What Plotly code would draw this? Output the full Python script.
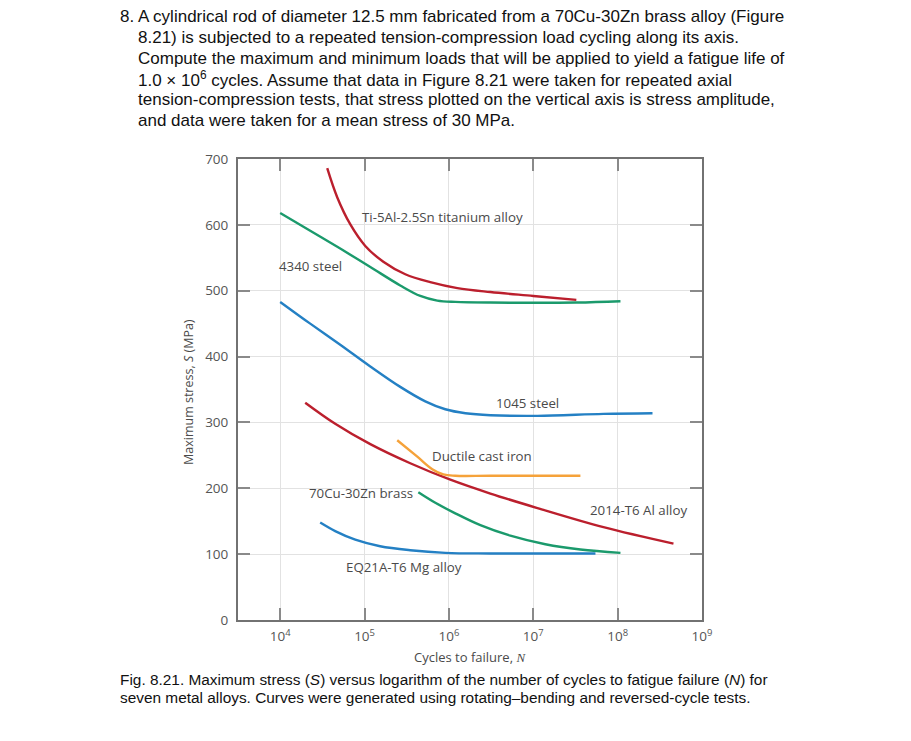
import plotly.graph_objects as go

# S-N curves (cycles to failure, stress in MPa)
ti_n = [3.61e4, 4.74e4, 6.76e4, 1.02e5, 1.67e5, 3.04e5, 6.01e5, 1.26e6, 3.10e6, 1.0e7, 3.24e7]
ti_s = [686, 642, 601, 568, 544, 525, 513, 504, 498, 492, 486]

s4340_n = [1.0e4, 2.27e4, 5.15e4, 1.17e5, 2.65e5, 4.58e5, 7.28e5, 1.19e6, 3.10e6, 3.24e7, 1.08e8]
s4340_s = [618, 591, 564, 536, 508, 492, 485, 483, 482, 482, 484]

s1045_n = [1.0e4, 2.27e4, 5.15e4, 1.17e5, 2.65e5, 5.25e5, 9.06e5, 1.57e6, 3.10e6, 1.12e7, 6.79e7, 2.59e8]
s1045_s = [483, 450, 418, 385, 354, 332, 320, 314, 311, 310, 313, 314]

al_n = [1.98e4, 4.49e4, 1.17e5, 3.48e5, 1.04e6, 3.10e6, 1.12e7, 6.79e7, 4.59e8]
al_s = [330, 298, 267, 238, 213, 192, 170, 141, 116]

iron_n = [2.44e5, 4.22e5, 6.35e5, 8.59e5, 1.19e6, 3.10e6, 3.62e7]
iron_s = [273, 248, 229, 221, 219, 219, 219]

brass_n = [4.34e5, 6.90e5, 1.19e6, 2.36e6, 5.35e6, 1.39e7, 3.62e7, 1.08e8]
brass_s = [194, 178, 162, 144, 128, 115, 107, 102]

mg_n = [2.98e4, 4.49e4, 7.76e4, 1.53e5, 3.48e5, 9.06e5, 3.10e6, 5.46e7]
mg_s = [148, 135, 122, 112, 106, 102, 101, 101]

x_ticks = [1e4, 1e5, 1e6, 1e7, 1e8, 1e9]
x_ticktext = ["10<sup>4</sup>", "10<sup>5</sup>", "10<sup>6</sup>",
              "10<sup>7</sup>", "10<sup>8</sup>", "10<sup>9</sup>"]
y_ticks = [0, 100, 200, 300, 400, 500, 600, 700]

question = [
    "A cylindrical rod of diameter 12.5 mm fabricated from a 70Cu-30Zn brass alloy (Figure",
    "8.21) is subjected to a repeated tension-compression load cycling along its axis.",
    "Compute the maximum and minimum loads that will be applied to yield a fatigue life of",
    "1.0 × 10<sup>6</sup> cycles. Assume that data in Figure 8.21 were taken for repeated axial",
    "tension-compression tests, that stress plotted on the vertical axis is stress amplitude,",
    "and data were taken for a mean stress of 30 MPa.",
]
caption = [
    "Fig. 8.21. Maximum stress (<i>S</i>) versus logarithm of the number of cycles to fatigue failure (<i>N</i>) for",
    "seven metal alloys. Curves were generated using rotating–bending and reversed-cycle tests.",
]

RED = "#bb1f2d"
GREEN = "#1b9a6c"
BLUE = "#2480c4"
ORANGE = "#f5a23a"

curves = [
    (s4340_n, s4340_s, GREEN),
    (ti_n, ti_s, RED),
    (s1045_n, s1045_s, BLUE),
    (al_n, al_s, RED),
    (iron_n, iron_s, ORANGE),
    (mg_n, mg_s, BLUE),
    (brass_n, brass_s, GREEN),
]

fig = go.Figure()
for n, s, col in curves:
    fig.add_trace(go.Scatter(x=n, y=s, mode="lines",
                             line=dict(color=col, width=2.4, shape="spline", smoothing=1.0),
                             showlegend=False, hoverinfo="skip"))

# plot box in page pixels (the page body adds an 8px offset)
OFF = 8
L, R, T, B = 238, 702, 159, 620
def px(xp, yp):
    return (xp - L) / (R - L), (B - yp) / (B - T)

lab_font = dict(family="Open Sans", size=13.3, color="#4a4a4a")
labels = [
    ("Ti-5Al-2.5Sn titanium alloy", 4.95, 612),
    ("4340 steel", 3.96, 537),
    ("1045 steel", 6.53, 329),
    ("Ductile cast iron", 5.78, 249),
    ("70Cu-30Zn brass", 4.32, 193),
    ("2014-T6 Al alloy", 7.65, 167),
    ("EQ21A-T6 Mg alloy", 4.76, 80),
]
for txt, lx, ly in labels:
    fig.add_annotation(x=lx, y=ly, text=txt, showarrow=False, xanchor="left",
                       yanchor="middle", font=lab_font)

# axis titles
ax, ay = px(188, 392)
fig.add_annotation(xref="paper", yref="paper", x=ax, y=ay, textangle=-90,
                   xanchor="center", yanchor="middle",
                   text="Maximum stress, <i>S</i> (MPa)", showarrow=False,
                   font=dict(family="Open Sans", size=12.5, color="#4a4a4a"))
ax, ay = px(470, 657)
fig.add_annotation(xref="paper", yref="paper", x=ax, y=ay,
                   xanchor="center", yanchor="middle",
                   text="Cycles to failure, <span style='font-family:Liberation Serif'><i>N</i></span>",
                   showarrow=False, font=dict(family="Open Sans", size=13, color="#4a4a4a"))

# question text
qfont = dict(family="Liberation Sans", size=17, color="#111111")
qx, qy = px(118, 17)
fig.add_annotation(xref="paper", yref="paper", x=qx, y=qy, text="8.", showarrow=False,
                   xanchor="left", yanchor="middle", font=qfont)
for i, line in enumerate(question):
    qx, qy = px(136, 17 + i * 20.7)
    fig.add_annotation(xref="paper", yref="paper", x=qx, y=qy, text=line, showarrow=False,
                       xanchor="left", yanchor="middle", font=qfont)

cfont = dict(family="Liberation Sans", size=15.4, color="#111111")
for i, line in enumerate(caption):
    cx, cy = px(118, 679 + i * 18)
    fig.add_annotation(xref="paper", yref="paper", x=cx, y=cy, text=line, showarrow=False,
                       xanchor="left", yanchor="middle", font=cfont)

axis_common = dict(showline=True, linecolor="#727272", linewidth=2, mirror="ticks",
                   ticks="inside", ticklen=12, tickwidth=1.5, tickcolor="#8a8a8a",
                   showgrid=True, gridcolor="#e2e2e2", gridwidth=1, zeroline=False,
                   tickfont=dict(family="Open Sans", size=13.5, color="#555555"))

fig.update_layout(
    width=911, height=741,
    margin=dict(l=L - OFF, r=911 - R + OFF, t=T - OFF, b=741 - B + OFF),
    paper_bgcolor="white", plot_bgcolor="white",
    xaxis=dict(type="log", range=[3.5, 9], tickvals=x_ticks, ticktext=x_ticktext,
               ticklabelstandoff=3, **axis_common),
    yaxis=dict(range=[0, 700], tickvals=y_ticks, ticklabelstandoff=5, **axis_common),
)

fig.write_html("out.html")
